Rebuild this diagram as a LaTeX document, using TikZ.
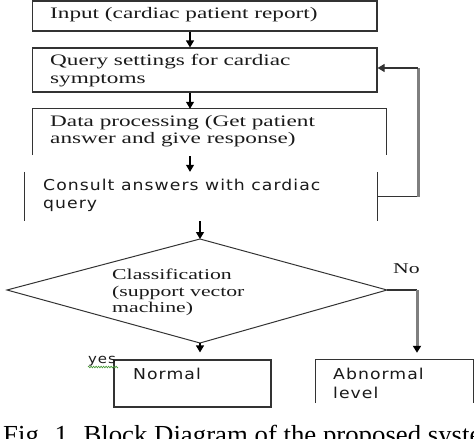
\documentclass[tikz,border=0pt]{standalone}
\usepackage{fontspec}
\usetikzlibrary{arrows.meta,decorations.pathmorphing}
\newfontfamily\boxserif[FakeStretch=1.45]{Liberation Serif}
\newfontfamily\boxsans[FakeStretch=1.15,LetterSpace=7]{DejaVu Sans}
\newfontfamily\capserif[FakeStretch=1.03]{Liberation Serif}
\definecolor{lineclr}{HTML}{333333}
\definecolor{fbclr}{HTML}{7F7F7F}
\definecolor{txtclr}{HTML}{1A1A1A}
\definecolor{squig}{HTML}{4A9A3A}
\tikzset{
  x=1pt,y=-1pt,
  boxshape/.style={rectangle,inner sep=0pt,line width=1.2pt,draw=lineclr},
  openbox/.style={rectangle,inner sep=0pt},
  partline/.style={line width=1.2pt,draw=lineclr},
  arr/.style={line width=1.2pt,draw=black,-{Triangle[length=7pt,width=8pt]}},
  thinfb/.style={line width=1.2pt,draw=lineclr},
  thickfb/.style={line width=3pt,draw=fbclr},
  sertext/.style={anchor=base west,inner sep=0pt,text=txtclr,font=\boxserif\fontsize{16}{19}\selectfont},
  dtext/.style={anchor=base west,inner sep=0pt,text=txtclr,font=\boxserif\fontsize{15}{17}\selectfont},
  santext/.style={anchor=base west,inner sep=0pt,text=txtclr,font=\boxsans\fontsize{15}{18}\selectfont},
  captext/.style={anchor=base west,inner sep=0pt,text=black,font=\capserif\fontsize{26}{30}\selectfont},
}
\begin{document}
\begin{tikzpicture}
\useasboundingbox (0,0) rectangle (474,439);
% boxes
\node[boxshape,minimum width=344.5pt,minimum height=30pt] (b1) at (204.75,16) {};
\node[boxshape,minimum width=344.5pt,minimum height=44pt] (b2) at (204.75,70) {};
\node[openbox,minimum width=353pt,minimum height=46pt] (b3) at (209.5,132) {};
\node[openbox,minimum width=352pt,minimum height=49pt] (b4) at (201,196.5) {};
\node[boxshape,minimum width=157pt,minimum height=47pt] (b5) at (192.5,383.5) {};
\node[openbox,minimum width=157pt,minimum height=43pt] (b6) at (394.5,381.5) {};
\draw[partline] (b3.south west) -- (b3.north west) -- (b3.north east) -- (b3.south east);
\draw[partline] (b4.north west) -- (b4.south west);
\draw[partline] (b4.north east) -- (b4.south east);
\draw[partline] (b6.south west) -- (b6.north west) -- (b6.north east) -- (b6.south east);
% diamond
\coordinate (dt) at (200,239);
\coordinate (dl) at (7,290);
\coordinate (dr) at (387,290);
\coordinate (db) at (200,343);
\draw[partline,line width=1pt] (dt) -- (dr) -- (db) -- (dl) -- cycle;
% texts
\node[sertext] (t1) at (50,19) {Input (cardiac patient report)};
\node[sertext] (t2a) at (50,65) {Query settings for cardiac};
\node[sertext] (t2b) at (50,83) {symptoms};
\node[sertext] (t3a) at (50,126) {Data processing (Get patient};
\node[sertext] (t3b) at (50,143) {answer and give response)};
\node[santext] (t4a) at (43,190) {Consult answers with cardiac};
\node[santext] (t4b) at (43,208) {query};
\node[dtext] (t5a) at (112,279) {Classification};
\node[dtext] (t5b) at (112,296) {(support vector};
\node[dtext] (t5c) at (112,312) {machine)};
\node[dtext] (no) at (393,273) {No};
\node[santext,font=\boxsans\fontsize{13}{15}\selectfont] (yes) at (88,363) {yes};
\node[santext] (t6) at (133,379) {Normal};
\node[santext] (t7a) at (333,379) {Abnormal};
\node[santext] (t7b) at (333,398) {level};
\node[captext] (cap) at (3,443) {Fig. 1. Block Diagram of the proposed system};
\draw[squig,line width=0.6pt,decorate,decoration={zigzag,amplitude=0.9pt,segment length=2.5pt}] (yes.base west) ++(0,4) -- ++(30,0);
% arrows
\draw[arr] ([xshift=-14.75pt]b1.south) -- ([xshift=-14.75pt]b2.north);
\draw[arr] ([xshift=-14.75pt]b2.south) -- ([xshift=-19.5pt]b3.north);
\draw[arr] ([xshift=-19.5pt,yshift=-1pt]b3.south) -- ([xshift=-11pt]b4.north);
\draw[arr] ([xshift=-1pt]b4.south) -- (dt);
% feedback loop
\coordinate (fbA) at (418,196.5);
\coordinate (fbB) at (418,68);
\draw[thinfb] (b4.east) -- (fbA);
\draw[thickfb] (fbA) -- (fbB);
\draw[thinfb,-{Triangle[length=7pt,width=8pt]}] (fbB) -- (b2.east |- fbB);
% branches
\coordinate (nbend) at (417,290);
\draw[thinfb] (dr) -- (nbend);
\draw[thickfb,-{Triangle[length=7pt,width=8pt,color=black]},shorten >=7pt] (nbend) -- (b6.north -| nbend);
\draw[arr,shorten >=7pt] (db) -- (b5.north -| db);
\end{tikzpicture}
\end{document}
